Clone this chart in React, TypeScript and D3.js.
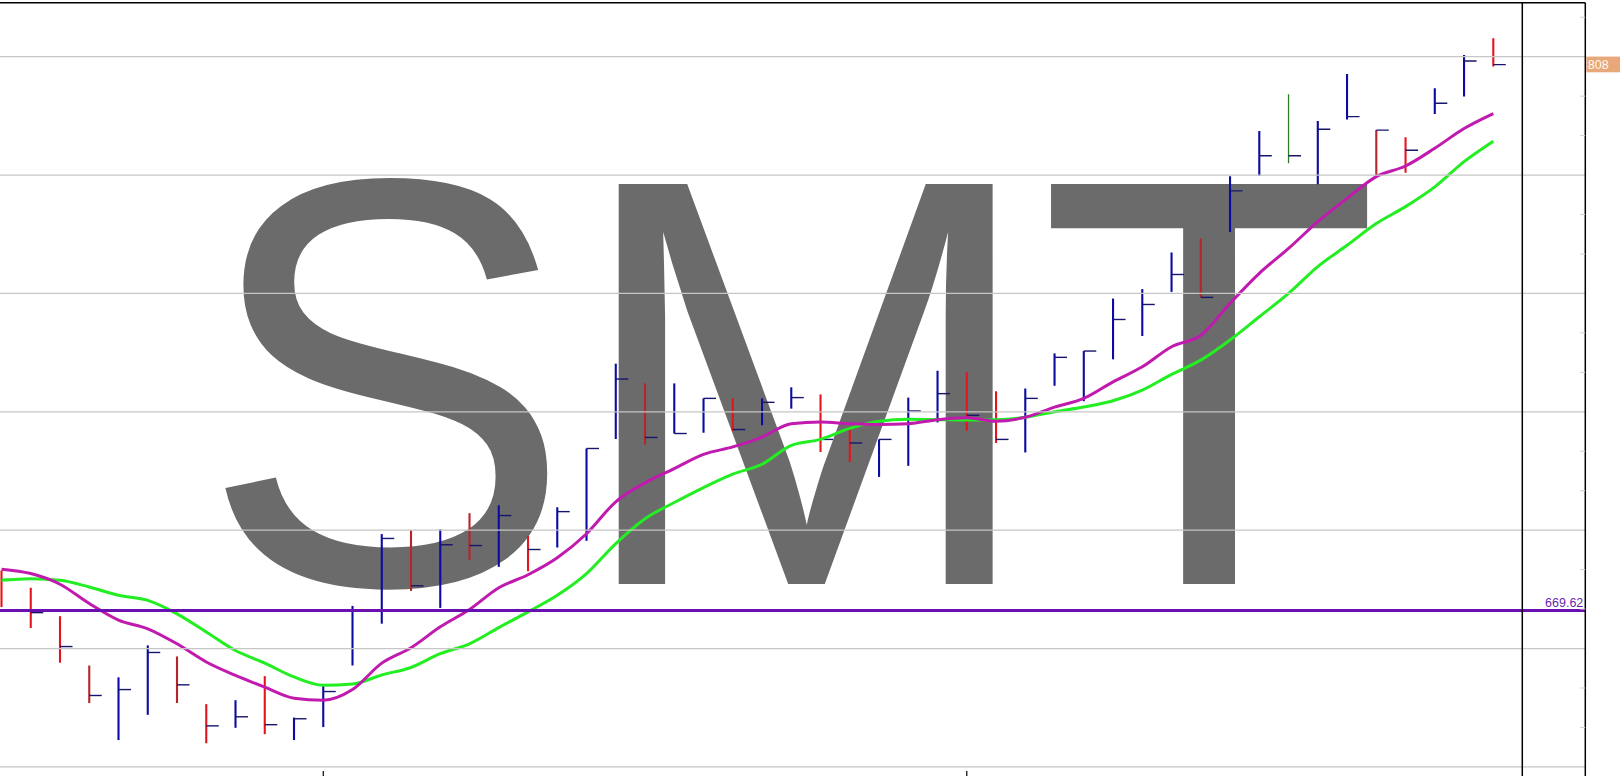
import { useRef, useEffect } from "react";
import * as d3 from "d3";

// bar data, one entry per session (oldest first)
const highs = [
  679.8, 675.4, 668.2, 655.7, 652.7, 660.8, 658.0, 645.9, 646.9, 653.0,
  642.5, 650.7, 670.8, 689.0, 690.0, 690.2, 694.3, 696.3, 688.5, 695.8,
  710.7, 732.2, 727.2, 727.2, 723.4, 723.4, 723.4, 726.2, 724.4, 716.0,
  713.0, 723.6, 730.4, 730.0, 725.2, 725.9, 734.8, 735.4, 748.7, 751.1,
  760.4, 763.9, 779.7, 791.2, 800.5, 793.7, 805.6, 791.4, 789.6, 802.0,
  810.4, 814.7,
];
const lows = [
  670.5, 665.2, 656.4, 646.2, 636.8, 643.2, 646.2, 636.0, 639.9, 638.3,
  636.8, 640.1, 655.7, 666.3, 674.6, 670.3, 682.4, 680.7, 679.6, 685.6,
  687.3, 713.1, 711.7, 714.5, 714.7, 715.1, 716.6, 720.8, 709.8, 707.3,
  703.5, 706.3, 717.3, 715.2, 712.1, 709.7, 726.6, 722.7, 733.3, 739.2,
  750.4, 749.0, 765.6, 779.8, 783.0, 777.7, 794.1, 779.6, 780.6, 795.5,
  799.9, 807.5,
];
const closes = [
  677.5, 669.1, 660.5, 648.1, 649.6, 659.0, 650.8, 640.4, 642.7, 640.7,
  642.2, 649.1, 669.8, 687.9, 675.9, 686.3, 686.1, 693.7, 685.1, 694.7,
  710.7, 728.3, 713.5, 714.5, 723.4, 715.5, 722.4, 723.6, 713.0, 712.1,
  713.0, 720.2, 724.6, 719.1, 713.0, 723.4, 733.8, 735.4, 743.4, 747.2,
  754.8, 749.0, 776.0, 784.9, 784.9, 791.6, 794.8, 791.4, 786.3, 798.2,
  808.9, 808.0,
];
// u = up, d = down, D = down (dark), f = unchanged
const tones = "dddDuuDdudu" + "uuuDuDudu" + "uuDuudu" + "uddu" + "uuddu" + "uuuuu" + "Duufuu" + "Dduud";

const maFast = [
  680.1, 679.0, 676.3, 671.4, 667.2, 665.0, 661.2, 656.6, 653.2, 650.2,
  647.4, 646.9, 649.6, 656.3, 660.2, 665.5, 669.9, 675.4, 678.7, 683.0,
  689.1, 697.2, 702.0, 705.6, 709.2, 711.1, 713.6, 717.0, 717.4, 717.0,
  716.8, 717.0, 718.0, 718.5, 717.6, 718.6, 721.2, 723.4, 727.6, 731.4,
  736.5, 739.4, 747.5, 755.1, 761.4, 768.2, 774.1, 779.6, 782.3, 786.8,
  791.8, 795.6,
];
const maSlow = [
  677.3, 677.7, 677.3, 675.6, 673.5, 672.2, 668.8, 664.2, 659.5, 656.3,
  652.8, 650.7, 651.0, 653.3, 655.2, 658.7, 661.2, 665.3, 669.3, 673.5,
  679.0, 686.6, 692.9, 697.0, 700.8, 704.2, 706.7, 711.5, 713.0, 715.8,
  717.6, 718.1, 718.0, 717.9, 718.0, 718.6, 720.0, 721.2, 722.8, 725.5,
  729.5, 733.1, 738.2, 744.1, 750.0, 756.8, 762.2, 767.7, 772.0, 777.0,
  783.4, 788.6,
];

const gridLevels = [630, 660, 690, 720, 750, 780, 810];
const minorLevels = [620, 640, 650, 670, 680, 700, 710, 730, 740, 760, 770, 790, 800, 820];
const monthStarts = [11, 33];
const refLevel = 669.62;
const lastPrice = 808;
const watermark = "SMT";

const toneColor: Record<string, string> = {
  u: "#0b0ba2",
  d: "#e5131b",
  D: "#b5252a",
  f: "#2e7a2e",
};

export default function App() {
  const svgRef = useRef<SVGSVGElement>(null);
  const width = 1620;
  const height = 776;

  useEffect(() => {
    document.body.style.margin = "0";
    if (!svgRef.current) return;

    const svg = d3.select(svgRef.current);
    svg.selectAll("*").remove();

    const plotRight = 1522.3;
    const axisRight = 1585.3;
    const top = 2.7;

    const x = d3.scaleLinear().domain([0, closes.length - 1]).range([1.5, 1493.3]);
    const y = d3.scaleLinear().domain([630, 810]).range([766.9, 56.7]);

    svg.append("defs")
      .append("clipPath")
      .attr("id", "plot-clip")
      .append("rect")
      .attr("x", 0)
      .attr("y", top)
      .attr("width", plotRight)
      .attr("height", height - top);

    const plot = svg.append("g").attr("clip-path", "url(#plot-clip)");

    // watermark (font is a touch taller than Liberation Sans, so stretch it)
    plot.append("text")
      .attr("transform", "translate(200,584) scale(1,1.04)")
      .attr("fill", "#6b6b6b")
      .style("font-family", "'Liberation Sans', Arial, sans-serif")
      .style("font-size", "559px")
      .text(watermark);

    // grid
    svg.selectAll(".grid-line")
      .data(gridLevels)
      .join("line")
      .attr("class", "grid-line")
      .attr("x1", 0)
      .attr("x2", axisRight)
      .attr("y1", (d) => y(d))
      .attr("y2", (d) => y(d))
      .attr("stroke", "#c6c6c6")
      .attr("stroke-width", 1.3);

    // bars
    const idx = d3.range(closes.length);
    plot.selectAll(".bar")
      .data(idx)
      .join("line")
      .attr("class", "bar")
      .attr("x1", (i) => x(i))
      .attr("x2", (i) => x(i))
      .attr("y1", (i) => y(highs[i]))
      .attr("y2", (i) => y(lows[i]))
      .attr("stroke", (i) => toneColor[tones[i]] ?? toneColor.u)
      .attr("stroke-width", (i) => (tones[i] === "f" ? 1.3 : 2.1));

    plot.selectAll(".close-tick")
      .data(idx)
      .join("line")
      .attr("class", "close-tick")
      .attr("x1", (i) => x(i))
      .attr("x2", (i) => x(i) + 12.5)
      .attr("y1", (i) => y(closes[i]))
      .attr("y2", (i) => y(closes[i]))
      .attr("stroke", "#16166c")
      .attr("stroke-width", 1.4);

    // moving averages
    const line = d3.line<number>()
      .x((_, i) => x(i))
      .y((d) => y(d))
      .curve(d3.curveMonotoneX);

    plot.append("path")
      .datum(maSlow)
      .attr("d", line)
      .attr("fill", "none")
      .attr("stroke", "#22ee22")
      .attr("stroke-width", 3)
      .attr("stroke-linejoin", "round");

    plot.append("path")
      .datum(maFast)
      .attr("d", line)
      .attr("fill", "none")
      .attr("stroke", "#c01aae")
      .attr("stroke-width", 3)
      .attr("stroke-linejoin", "round");

    // reference level
    svg.append("line")
      .attr("x1", 0)
      .attr("x2", axisRight)
      .attr("y1", y(refLevel))
      .attr("y2", y(refLevel))
      .attr("stroke", "#6a0fb0")
      .attr("stroke-width", 3);

    svg.append("text")
      .attr("x", axisRight - 2)
      .attr("y", y(refLevel) - 4)
      .attr("text-anchor", "end")
      .attr("fill", "#6a1fb0")
      .style("font-family", "'Liberation Sans', Arial, sans-serif")
      .style("font-size", "12.5px")
      .text(refLevel.toFixed(2));

    // frame
    svg.append("line")
      .attr("x1", 0).attr("x2", axisRight)
      .attr("y1", top).attr("y2", top)
      .attr("stroke", "#000").attr("stroke-width", 1.5);
    svg.append("line")
      .attr("x1", plotRight).attr("x2", plotRight)
      .attr("y1", top).attr("y2", height)
      .attr("stroke", "#000").attr("stroke-width", 1.5);
    svg.append("line")
      .attr("x1", axisRight).attr("x2", axisRight)
      .attr("y1", top).attr("y2", height)
      .attr("stroke", "#000").attr("stroke-width", 1.5);

    // right axis minor ticks
    svg.selectAll(".minor-tick")
      .data(minorLevels)
      .join("line")
      .attr("class", "minor-tick")
      .attr("x1", axisRight - 5)
      .attr("x2", axisRight)
      .attr("y1", (d) => y(d))
      .attr("y2", (d) => y(d))
      .attr("stroke", "#cfcfcf")
      .attr("stroke-width", 1);

    // month ticks on the bottom edge
    svg.selectAll(".month-tick")
      .data(monthStarts)
      .join("line")
      .attr("class", "month-tick")
      .attr("x1", (i) => x(i))
      .attr("x2", (i) => x(i))
      .attr("y1", 771)
      .attr("y2", height)
      .attr("stroke", "#000")
      .attr("stroke-width", 1.2);

    // last price tag
    const tagY = y(lastPrice);
    svg.append("rect")
      .attr("x", axisRight + 1)
      .attr("y", tagY - 8)
      .attr("width", width - axisRight - 1)
      .attr("height", 15.7)
      .attr("fill", "#e8a87a");
    svg.append("text")
      .attr("x", axisRight + 2.5)
      .attr("y", tagY + 4.5)
      .attr("fill", "#fff8ee")
      .style("font-family", "'Liberation Sans', Arial, sans-serif")
      .style("font-size", "12.5px")
      .text(String(lastPrice));
  }, []);

  return (
    <svg
      ref={svgRef}
      width={width}
      height={height}
      viewBox={`0 0 ${width} ${height}`}
      style={{ display: "block", background: "#fff" }}
    />
  );
}
